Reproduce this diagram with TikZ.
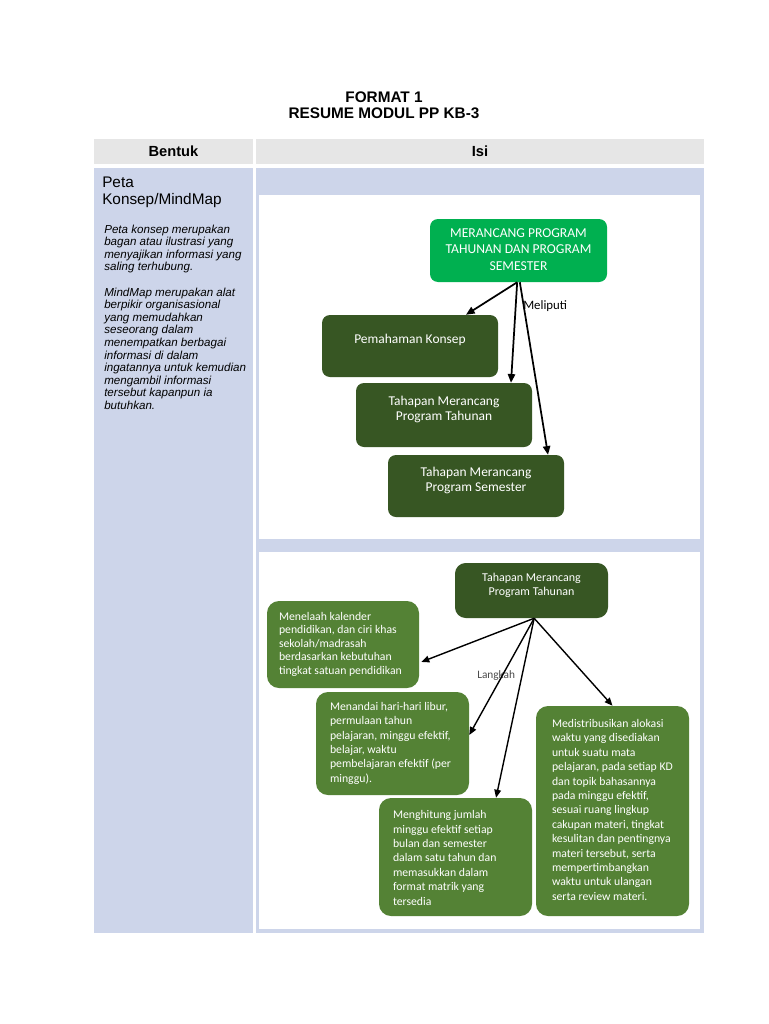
\documentclass[tikz,border=0pt]{standalone}
\usepackage{fontspec}
\setmainfont{Liberation Sans}
\newfontfamily\carl{Carlito}
\usetikzlibrary{arrows.meta}
\definecolor{cellblue}{HTML}{CDD5EA}
\definecolor{cellgray}{HTML}{E6E6E6}
\definecolor{brightgreen}{HTML}{00B050}
\definecolor{darkgreen}{HTML}{375623}
\definecolor{midgreen}{HTML}{548235}
\newcommand\mkctext[2][0pt]{\raisebox{#1}[\height][\depth]{\begin{tabular}{@{}c@{}}#2\end{tabular}}}
\newcommand\mkltext[3][0pt]{\raisebox{#1}[\height][\depth]{\makebox[#2][l]{\begin{tabular}{@{}l@{}}#3\end{tabular}}}}
\begin{document}
\begin{tikzpicture}[x=0.75pt,y=-0.75pt,
  box/.style={rounded corners=6pt, text=white, inner sep=0pt},
  topbox/.style={box, fill=brightgreen, font=\carl\fontsize{10.2}{12.4}\selectfont},
  darkbox/.style={box, fill=darkgreen, font=\carl\fontsize{10.1}{11.25}\selectfont, minimum width=132pt},
  midbox/.style={box, fill=midgreen, rounded corners=9pt, font=\carl\fontsize{8.8}{10.8}\selectfont, minimum width=114.75pt},
  headcell/.style={fill=cellgray, inner sep=0pt, font=\bfseries\fontsize{11}{13}\selectfont, minimum height=18.75pt},
  conn/.style={draw=black, line width=1.3pt, -{Triangle[length=6.5pt,width=5.5pt]}},
  connb/.style={draw=black, line width=1.05pt, -{Triangle[length=6pt,width=5pt]}},
]
\useasboundingbox (0,0) rectangle (768,1024);
\fill[white] (0,0) rectangle (768,1024);

% title
\node[font=\bfseries\fontsize{11.5}{12}\selectfont, align=center, inner sep=0pt] (title) at (384,105) {FORMAT 1\\RESUME MODUL PP KB-3};

% table
\node[headcell, minimum width=119.25pt] (hbentuk) at (173.5,151.5) {Bentuk};
\node[headcell, minimum width=336pt] (hisi) at (480,151.5) {Isi};
\fill[cellblue] (94,168) rectangle (253,933);
\fill[cellblue] (256,168) rectangle (704,933);
\fill[white] (259,195) rectangle (700,539);
\fill[white] (259,552) rectangle (700,929);

% left column text
\node[anchor=north west, align=left, inner sep=0pt, font=\fontsize{11.5}{12.75}\selectfont] (peta) at (102,176.5) {Peta\\Konsep/MindMap};
\node[anchor=north west, align=left, inner sep=0pt, font=\itshape\fontsize{8.7}{9.45}\selectfont] (desc) at (104,224.5)
 {Peta konsep merupakan\\bagan atau ilustrasi yang\\menyajikan informasi yang\\saling terhubung.\\[9.45pt]MindMap merupakan alat\\berpikir organisasional\\yang memudahkan\\seseorang dalam\\menempatkan berbagai\\informasi di dalam\\ingatannya untuk kemudian\\mengambil informasi\\tersebut kapanpun ia\\butuhkan.};

% top diagram
\node[topbox, minimum width=132.75pt, minimum height=47.25pt] (T0) at (518.5,250.5) {\mkctext{MERANCANG PROGRAM\\TAHUNAN DAN PROGRAM\\SEMESTER}};
\node[darkbox, minimum height=46.5pt] (T1) at (410,346) {\mkctext[4pt]{Pemahaman Konsep}};
\node[darkbox, minimum height=48pt] (T2) at (444,415) {\mkctext[3.5pt]{Tahapan Merancang\\Program Tahunan}};
\node[darkbox, minimum height=46.5pt] (T3) at (476,486) {\mkctext[4pt]{Tahapan Merancang\\Program Semester}};
\node[font=\carl\fontsize{9.6}{11}\selectfont, anchor=west, inner sep=0pt] (meliputi) at (523,306) {Meliputi};

\draw[conn] ([xshift=-1pt]T0.south) -- ([xshift=42pt]T1.north);
\draw[conn] ([xshift=-1pt]T0.south) -- ([xshift=50.25pt]T2.north);
\draw[conn] ([xshift=1pt]T0.south) -- ([xshift=54pt]T3.north);

% bottom diagram
\node[box, fill=darkgreen, rounded corners=8pt, font=\carl\fontsize{9}{10.5}\selectfont, minimum width=114.75pt, minimum height=41.25pt] (B0) at (531.5,590.5) {\mkctext[3.4pt]{Tahapan Merancang\\Program Tahunan}};
\node[midbox, font=\carl\fontsize{8.8}{10.2}\selectfont, minimum width=114pt, minimum height=65.25pt, inner xsep=9pt] (B1) at (343,644.5)
 {\mkltext{96pt}{Menelaah kalender\\pendidikan, dan ciri khas\\sekolah/madrasah\\berdasarkan kebutuhan\\tingkat satuan pendidikan}};
\node[midbox, minimum height=77.25pt, inner xsep=10.5pt] (B2) at (392.5,743.5)
 {\mkltext{93.75pt}{Menandai hari-hari libur,\\permulaan tahun\\pelajaran, minggu efektif,\\belajar, waktu\\pembelajaran efektif (per\\minggu).}};
\node[midbox, minimum height=88.5pt, inner xsep=10.5pt] (B3) at (455.5,857)
 {\mkltext[-1.5pt]{93.75pt}{Menghitung jumlah\\minggu efektif setiap\\bulan dan semester\\dalam satu tahun dan\\memasukkan dalam\\format matrik yang\\tersedia}};
\node[midbox, minimum height=157.5pt, inner xsep=12pt] (B4) at (612.5,811)
 {\mkltext{90.75pt}{Medistribusikan alokasi\\waktu yang disediakan\\untuk suatu mata\\pelajaran, pada setiap KD\\dan topik bahasannya\\pada minggu efektif,\\sesuai ruang lingkup\\cakupan materi, tingkat\\kesulitan dan pentingnya\\materi tersebut, serta\\mempertimbangkan\\waktu untuk ulangan\\serta review materi.}};
\node[font=\carl\fontsize{8.5}{10}\selectfont, text=black!70, anchor=west, inner sep=0pt] (langkah) at (477,676) {Langkah};

\draw[connb] ([xshift=2pt]B0.south) -- ([xshift=1.5pt,yshift=-13.1pt]B1.east);
\draw[connb] ([xshift=2pt]B0.south) -- ([yshift=6.4pt]B2.east);
\draw[connb] ([xshift=2pt]B0.south) -- ([xshift=30.4pt]B3.north);
\draw[connb] ([xshift=2pt]B0.south) -- (B4.north);
\end{tikzpicture}
\end{document}
